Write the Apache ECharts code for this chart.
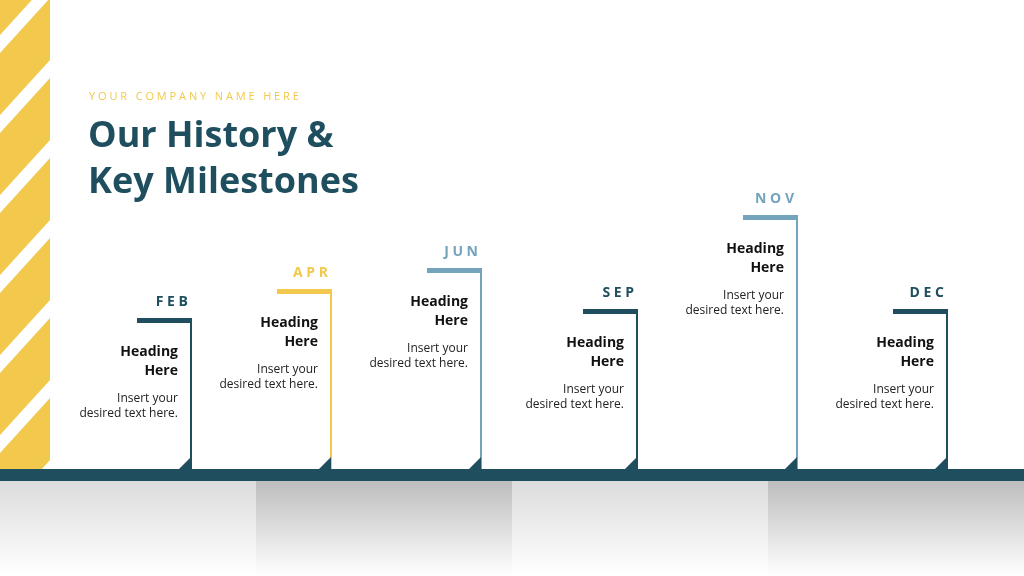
<!DOCTYPE html>
<html>
<head>
<meta charset="utf-8">
<script src="https://cdn.jsdelivr.net/npm/echarts@6/dist/echarts.min.js"></script>
<style>html,body{margin:0;padding:0;background:#fff}#main{width:1024px;height:576px}</style>
</head>
<body>
<div id="main"></div>
<script>
// milestones
var months = ['FEB', 'APR', 'JUN', 'SEP', 'NOV', 'DEC'];
var posX = [191, 331, 481, 637, 797, 947];
var topY = [320, 291, 270, 311, 217, 311];
var headings = ['Heading\nHere', 'Heading\nHere', 'Heading\nHere', 'Heading\nHere', 'Heading\nHere', 'Heading\nHere'];
var bodies = ['Insert your\ndesired text here.', 'Insert your\ndesired text here.', 'Insert your\ndesired text here.',
              'Insert your\ndesired text here.', 'Insert your\ndesired text here.', 'Insert your\ndesired text here.'];

var DARK = '#1f4e5f', YEL = '#f2c94c', BLUE = '#74a3bd';
var flagColors = [DARK, YEL, BLUE, DARK, BLUE, DARK];
var BASE = 469;

var myChart = echarts.init(document.getElementById('main'));

// striped yellow panel on the left
var deco = [];
deco.push({type: 'rect', shape: {x: 0, y: 0, width: 50, height: BASE}, style: {fill: YEL}, z: 1});
for (var c = -45; c < BASE + 80; c += 80) {
  deco.push({type: 'polygon', z: 2, shape: {points: [[0, c], [50, c - 55], [50, c - 55 + 18], [0, c + 18]]}, style: {fill: '#fff'}});
}
// white cover below baseline for stripes
deco.push({type: 'rect', z: 3, shape: {x: 0, y: BASE, width: 60, height: 120}, style: {fill: '#fff'}});
// grey floor blocks
for (var i = 0; i < 4; i++) {
  var dark = i % 2 == 1;
  deco.push({type: 'rect', z: 4, shape: {x: i * 256, y: 481, width: 256, height: 95},
    style: {fill: new echarts.graphic.LinearGradient(0, 0, 0, 1, [
      {offset: 0, color: dark ? '#bdbdbd' : '#dcdcdc'}, {offset: 1, color: '#ffffff'}])}});
}
deco.push({type: 'rect', z: 5, shape: {x: 0, y: BASE, width: 1024, height: 12}, style: {fill: DARK}});
deco.push({type: 'text', z: 5, left: 89, top: 91, style: {text: 'Y O U R   C O M P A N Y   N A M E   H E R E', fill: YEL, font: '11px "Open Sans"'}});
deco.push({type: 'text', z: 5, left: 88, top: 114, style: {text: 'Our History &\nKey Milestones', fill: DARK, font: 'bold 36px "Open Sans"', lineHeight: 46}});

var option = {
  animation: false,
  grid: {left: 0, right: 0, top: 0, bottom: 0},
  xAxis: {type: 'value', min: 0, max: 1024, show: false},
  yAxis: {type: 'value', min: 0, max: 576, inverse: true, show: false},
  graphic: deco,
  series: [{
    type: 'custom',
    z: 10,
    data: months.map(function (m, i) { return [posX[i], topY[i], i]; }),
    renderItem: function (params, api) {
      var i = api.value(2);
      var p = api.coord([api.value(0), api.value(1)]);
      var b = api.coord([api.value(0), BASE]);
      var col = flagColors[i];
      var x = p[0], y = p[1];
      return {type: 'group', children: [
        {type: 'rect', shape: {x: x - 54, y: y - 2, width: 55, height: 5}, style: {fill: col}},
        {type: 'rect', shape: {x: x - 1, y: y, width: 2, height: b[1] - y}, style: {fill: col}},
        {type: 'polygon', shape: {points: [[x - 12, b[1]], [x, b[1] - 12], [x, b[1]]]}, style: {fill: DARK}},
        {type: 'text', x: x - 3, y: y - 25, style: {text: months[i].split('').join(' '), align: 'right', fill: col, font: 'bold 14px "Open Sans"'}},
        {type: 'text', x: x - 13, y: y + 23, style: {text: headings[i], align: 'right', fill: '#111', font: 'bold 14px "Open Sans"', lineHeight: 19}},
        {type: 'text', x: x - 13, y: y + 71, style: {text: bodies[i], align: 'right', fill: '#222', font: '12px "Open Sans"', lineHeight: 15}}
      ]};
    }
  }]
};
myChart.setOption(option);
</script>
</body>
</html>
